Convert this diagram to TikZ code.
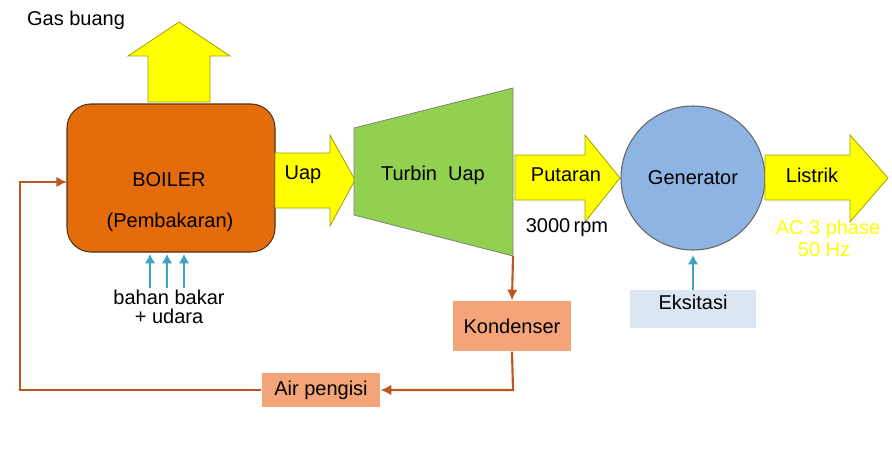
\documentclass[tikz,border=0pt]{standalone}
\usepackage{fontspec}
\setmainfont{Liberation Sans}
\usetikzlibrary{arrows.meta}
\definecolor{boil}{HTML}{E46C0A}
\definecolor{turb}{HTML}{92D050}
\definecolor{genc}{HTML}{8EB4E3}
\definecolor{kond}{HTML}{F4A479}
\definecolor{eksc}{HTML}{DCE6F2}
\definecolor{bluc}{HTML}{3FA3C4}
\definecolor{linec}{HTML}{C0561F}
\definecolor{yel}{HTML}{FFFF00}
\definecolor{yeld}{HTML}{A0A000}
\begin{document}
\begin{tikzpicture}[x=0.75pt,y=-0.75pt,
  lbl/.style={font=\fontsize{15}{17}\selectfont},
  yarr/.style={fill=yel,draw=yeld,line width=0.6pt},
  flow/.style={draw=linec,line width=1.6pt,-{Latex[length=8pt,width=8pt]}},
  blu/.style={draw=bluc,line width=2.2pt,-{Latex[length=7pt,width=8pt]}},
  box/.style={draw=none,lbl,inner sep=0pt}]
\useasboundingbox (0,0) rectangle (892,460);
\fill[white] (0,0) rectangle (892,460);
% gas buang
\node[lbl] (gas) at (76,20) {Gas buang};
\draw[yarr] (148,102) -- (148,56) -- (128,56) -- (179,22) -- (230,56) -- (210,56) -- (210,102) -- cycle;
% boiler
\draw[fill=boil,draw=black!60!brown,rounded corners=18pt,line width=0.8pt] (67,104) rectangle (275,252);
\node[lbl] (boiler) at (169,180) {BOILER};
\node[lbl] (pemb) at (170,222) {(Pembakaran)};
% Uap arrow
\draw[yarr] (275,153) -- (330,153) -- (330,135) -- (355,180) -- (330,226) -- (330,208) -- (275,208) -- cycle;
\node[lbl] (uap) at (303,175) {Uap};
% turbine
\draw[fill=turb,draw=black!50,line width=0.6pt] (354,128) -- (513,88) -- (513,256) -- (354,215) -- cycle;
\node[lbl] (turbin) at (433,175) {Turbin\ \ Uap};
% putaran
\draw[yarr] (515,155) -- (585,155) -- (585,135) -- (620,178) -- (585,222) -- (585,200) -- (515,200) -- cycle;
\node[lbl] (put) at (566,175) {Putaran};
\node[lbl] (rpm) at (567,228) {3000\,rpm};
% generator
\node[circle,draw=black!60,line width=0.8pt,fill=genc,inner sep=0pt,minimum size=108pt] (gen) at (693,178) {};
\node[lbl] at (693,178) {Generator};
% listrik
\draw[yarr] (765,155) -- (850,155) -- (850,135) -- (888,178) -- (850,222) -- (850,200) -- (765,200) -- cycle;
\node[lbl] (lis) at (812,175) {Listrik};
\node[lbl,text=yel] (ac) at (828,229) {AC 3 phase};
\node[lbl,text=yel] (hz) at (824,250) {50 Hz};
% fuel arrows
\coordinate (f1) at (150,288); \coordinate (f1t) at (150,254);
\coordinate (f2) at (167,288); \coordinate (f2t) at (167,254);
\coordinate (f3) at (184,288); \coordinate (f3t) at (184,254);
\draw[blu] (f1) -- (f1t); \draw[blu] (f2) -- (f2t); \draw[blu] (f3) -- (f3t);
\node[lbl] (bb) at (169,297) {bahan bakar};
\node[lbl] (ud) at (169,316) {+ udara};
% eksitasi
\node[box,fill=eksc,minimum width=95pt,minimum height=28pt] (eks) at (693,309) {};
\node[lbl] at (693,302) {Eksitasi};
\coordinate (eksb) at (693,290);
\draw[blu] (eksb) -- (693,255);
% kondenser
\node[box,fill=kond,minimum width=89pt,minimum height=38pt] (kond) at (512,326) {Kondenser};
\node[box,fill=kond,minimum width=89pt,minimum height=26pt] (air) at (321,390) {Air pengisi};
\coordinate (tb) at (513,256);
\draw[flow] (tb) -- (kond.north);
\draw[flow] (kond.south) -- (513,390) -- (air.east);
\coordinate (bl) at (67,182);
\draw[flow] (air.west) -- (20,390) -- (20,182) -- (bl);
\end{tikzpicture}
\end{document}
